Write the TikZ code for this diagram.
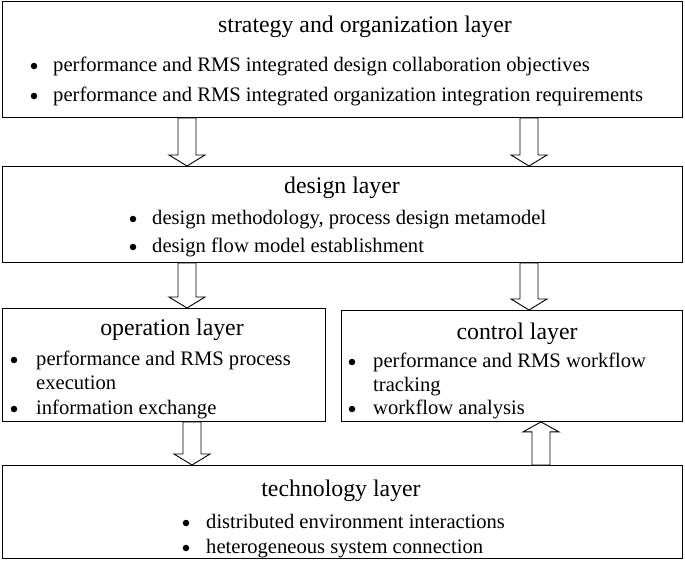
\documentclass[tikz,border=0pt]{standalone}
\usepackage{fontspec}
\setmainfont{Liberation Serif}
\usetikzlibrary{calc}
\tikzset{
  layerbox/.style={draw, line width=0.9pt, fill=white, inner sep=0pt},
  titletext/.style={font=\fontsize{23.8}{26}\selectfont, anchor=base, inner sep=0pt},
  bodytext/.style={font=\fontsize{20.6}{24}\selectfont, anchor=base west, inner sep=0pt},
  bulletdot/.style={circle, fill=black, inner sep=0pt, minimum size=6.5pt},
  hollow/.style={draw, line width=0.9pt, fill=white, line join=miter}
}
\newcommand\hollowdown[2]{%
  \draw[hollow] let \p1=(#1), \p2=(#2) in
    (\x1-9pt,\y1) -- (\x1-9pt,\y2+11pt) -- (\x1-18pt,\y2+11pt) -- (\x1,\y2)
    -- (\x1+18pt,\y2+11pt) -- (\x1+9pt,\y2+11pt) -- (\x1+9pt,\y1) -- cycle;}
\newcommand\hollowup[2]{%
  \draw[hollow] let \p1=(#1), \p2=(#2) in
    (\x1-9pt,\y1) -- (\x1-9pt,\y2-10pt) -- (\x1-18pt,\y2-10pt) -- (\x1,\y2)
    -- (\x1+18pt,\y2-10pt) -- (\x1+9pt,\y2-10pt) -- (\x1+9pt,\y1) -- cycle;}
\begin{document}
\begin{tikzpicture}[x=1pt,y=-1pt]
\useasboundingbox (0,0) rectangle (685,563);
% boxes
\node[layerbox, minimum width=680pt, minimum height=116pt, anchor=north west] (s) at (2,1) {};
\node[layerbox, minimum width=680pt, minimum height=96pt, anchor=north west] (d) at (2,166) {};
\node[layerbox, minimum width=323pt, minimum height=113pt, anchor=north west] (o) at (2,308) {};
\node[layerbox, minimum width=341pt, minimum height=111pt, anchor=north west] (c) at (341,310) {};
\node[layerbox, minimum width=680pt, minimum height=93pt, anchor=north west] (t) at (2,465) {};

% strategy
\node[titletext] (st) at (365,32) {strategy and organization layer};
\node[bulletdot] (sb1) at (34,66) {};
\node[bodytext] (s1) at (53,71) {performance and RMS integrated design collaboration objectives};
\node[bulletdot] (sb2) at (34,96) {};
\node[bodytext] (s2) at (53,101) {performance and RMS integrated organization integration requirements};

% design
\node[titletext] (dt) at (342,193) {design layer};
\node[bulletdot] (db1) at (133,219) {};
\node[bodytext] (d1) at (152,224) {design methodology, process design metamodel};
\node[bulletdot] (db2) at (133,247) {};
\node[bodytext] (d2) at (152,252) {design flow model establishment};

% operation
\node[titletext] (ot) at (172,335) {operation layer};
\node[bulletdot] (ob1) at (14,360) {};
\node[bodytext] (o1) at (36,365) {performance and RMS process};
\node[bodytext] (o1b) at (36,389) {execution};
\node[bulletdot] (ob2) at (14,409) {};
\node[bodytext] (o2) at (36,414) {information exchange};

% control
\node[titletext] (ct) at (517,339) {control layer};
\node[bulletdot] (cb1) at (352,362) {};
\node[bodytext] (c1) at (373,367) {performance and RMS workflow};
\node[bodytext] (c1b) at (373,391) {tracking};
\node[bulletdot] (cb2) at (352,409) {};
\node[bodytext] (c2) at (373,414) {workflow analysis};

% technology
\node[titletext] (tt) at (341,496) {technology layer};
\node[bulletdot] (tb1) at (186,523) {};
\node[bodytext] (t1) at (206,528) {distributed environment interactions};
\node[bulletdot] (tb2) at (186,548) {};
\node[bodytext] (t2) at (206,553) {heterogeneous system connection};

% arrow anchor coordinates
\coordinate (xl) at (187,0);
\coordinate (xr) at (529,0);
\coordinate (xo) at (192,0);
\coordinate (xc) at (541,0);
\coordinate (a1s) at (s.south -| xl); \coordinate (a1e) at (d.north -| xl);
\coordinate (a2s) at (s.south -| xr); \coordinate (a2e) at (d.north -| xr);
\coordinate (a3s) at (d.south -| xl); \coordinate (a3e) at (o.north -| xl);
\coordinate (a4s) at (d.south -| xr); \coordinate (a4e) at (c.north -| xr);
\coordinate (a5s) at (o.south -| xo); \coordinate (a5e) at (t.north -| xo);
\coordinate (a6s) at (t.north -| xc); \coordinate (a6e) at (c.south -| xc);

\hollowdown{a1s}{a1e}
\hollowdown{a2s}{a2e}
\hollowdown{a3s}{a3e}
\hollowdown{a4s}{a4e}
\hollowdown{a5s}{a5e}
\hollowup{a6s}{a6e}
\end{tikzpicture}
\end{document}
